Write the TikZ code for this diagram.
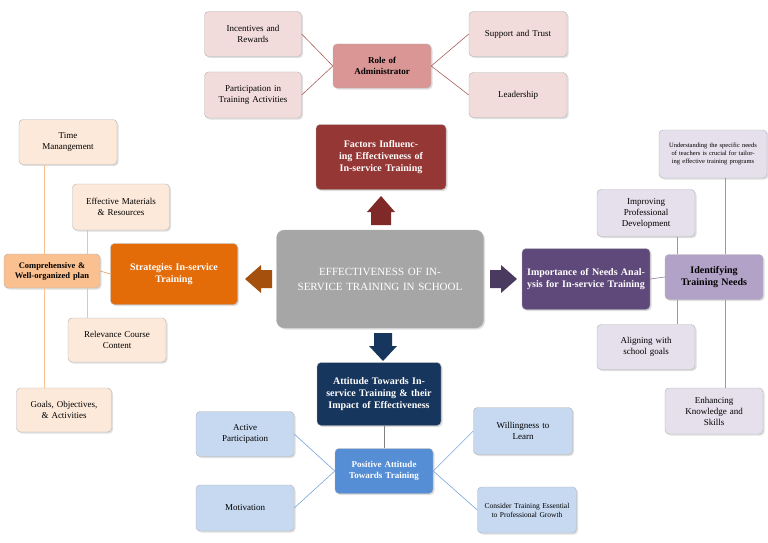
\documentclass[tikz,border=0pt]{standalone}
\usepackage{fontspec}
\setmainfont{Liberation Serif}
\usetikzlibrary{shadows}
\definecolor{cgray}{HTML}{A6A6A6}
\definecolor{dred}{HTML}{953735}
\definecolor{mred}{HTML}{D99694}
\definecolor{lred}{HTML}{F2DCDB}
\definecolor{dor}{HTML}{E36C09}
\definecolor{mor}{HTML}{FAC090}
\definecolor{lor}{HTML}{FDE9D9}
\definecolor{dpu}{HTML}{5F497A}
\definecolor{mpu}{HTML}{B2A2C7}
\definecolor{lpu}{HTML}{E5E0EC}
\definecolor{dbl}{HTML}{17365D}
\definecolor{mbl}{HTML}{558ED5}
\definecolor{lbl}{HTML}{C6D9F1}
\definecolor{arrred}{HTML}{7F2A28}
\definecolor{arror}{HTML}{A5500C}
\definecolor{arrpu}{HTML}{4B3A60}
\begin{document}
\begin{tikzpicture}[x=1pt,y=-1pt,
 box/.style={draw=gray!60,rounded corners=4pt,align=center,inner sep=2pt,font=\fontsize{9}{11}\selectfont,drop shadow={opacity=0.25,shadow xshift=1.5pt,shadow yshift=-1.5pt}},
 big/.style={box,text=white,font=\bfseries\fontsize{10}{12}\selectfont},
 mid/.style={box,font=\bfseries\fontsize{9}{11}\selectfont},
 ln/.style={line width=0.6pt}]
\useasboundingbox (0,0) rectangle (768,543);
% central
\node[box,fill=cgray,text=white,minimum width=207,minimum height=98,rounded corners=8pt,font=\fontsize{11}{15}\selectfont,text width=180] (c) at (380,279) {EFFECTIVENESS OF IN-SERVICE TRAINING IN SCHOOL};
% top
\node[big,fill=dred,minimum width=130,minimum height=65,text width=124] (f) at (381,157) {Factors Influencing Effectiveness of In-service Training};
\node[mid,fill=mred,minimum width=98,minimum height=44,text width=90] (r) at (382,66) {Role of\\Administrator};
\node[box,fill=lred,minimum width=97,minimum height=45,text width=90] (r1) at (253,34) {Incentives and\\Rewards};
\node[box,fill=lred,minimum width=97,minimum height=46,text width=90] (r2) at (253,95) {Participation in\\Training Activities};
\node[box,fill=lred,minimum width=98,minimum height=45,text width=90] (r3) at (518,34) {Support and Trust};
\node[box,fill=lred,minimum width=98,minimum height=45,text width=90] (r4) at (518,95) {Leadership};
\draw[ln,dred!80] (r.west) -- (r1.east) (r.west) -- (r2.east) (r.east) -- (r3.west) (r.east) -- (r4.west);
% left
\node[big,fill=dor,minimum width=127,minimum height=61,text width=120] (s) at (174,274) {Strategies In-service\\Training};
\node[mid,fill=mor,minimum width=95,minimum height=34,text width=92,font=\bfseries\fontsize{8.5}{10}\selectfont] (cp) at (52,271) {Comprehensive \&\\Well-organized plan};
\node[box,fill=lor,minimum width=98,minimum height=45,text width=90] (s1) at (68,142) {Time\\Manangement};
\node[box,fill=lor,minimum width=97,minimum height=46,text width=90] (s2) at (121,207) {Effective Materials\\\& Resources};
\node[box,fill=lor,minimum width=98,minimum height=44,text width=90] (s3) at (117,340) {Relevance Course\\Content};
\node[box,fill=lor,minimum width=95,minimum height=44,text width=90] (s4) at (64,410) {Goals, Objectives,\\\& Activities};
\draw[ln,dor!70] (s.west) -- (cp.east);
\draw[ln,mor] (cp.north -| 44,0) -- (s1.south -| 44,0) (cp.south -| 44,0) -- (s4.north -| 44,0)
 (cp.north -| 87,0) -- (s2.south -| 87,0) (cp.south -| 87,0) -- (s3.north -| 87,0);
% right
\node[big,fill=dpu,minimum width=128,minimum height=61,text width=122] (im) at (586,279) {Importance of Needs Analysis for In-service Training};
\node[mid,fill=mpu,minimum width=98,minimum height=45,text width=92,font=\bfseries\fontsize{10}{12}\selectfont] (id) at (714,277) {Identifying\\Training Needs};
\node[box,fill=lpu,minimum width=107,minimum height=48,text width=104,font=\fontsize{6.5}{8}\selectfont] (p1) at (713,154) {Understanding the specific needs of teachers is crucial for tailoring effective training programs};
\node[box,fill=lpu,minimum width=98,minimum height=47,text width=90] (p2) at (646,213) {Improving\\Professional\\Development};
\node[box,fill=lpu,minimum width=98,minimum height=45,text width=90] (p3) at (646,347) {Aligning with\\school goals};
\node[box,fill=lpu,minimum width=98,minimum height=46,text width=90] (p4) at (714,411) {Enhancing\\Knowledge and\\Skills};
\draw[ln,dpu!70] (im.east) -- (id.west);
\draw[ln,dpu!60] (id.north -| 725,0) -- (p1.south -| 725,0) (id.south -| 725,0) -- (p4.north -| 725,0)
 (id.north -| 677,0) -- (p2.south -| 677,0) (id.south -| 677,0) -- (p3.north -| 677,0);
% bottom
\node[big,fill=dbl,minimum width=124,minimum height=63,text width=118] (a) at (379,394) {Attitude Towards In-service Training \& their Impact of Effectiveness};
\node[mid,fill=mbl,text=white,minimum width=98,minimum height=45,text width=92] (po) at (384,471) {Positive Attitude\\Towards Training};
\node[box,fill=lbl,minimum width=98,minimum height=45,text width=90] (b1) at (245,434) {Active\\Participation};
\node[box,fill=lbl,minimum width=99,minimum height=47,text width=90] (b2) at (523,431) {Willingness to\\Learn};
\node[box,fill=lbl,minimum width=98,minimum height=46,text width=90] (b3) at (245,508) {Motivation};
\node[box,fill=lbl,minimum width=99,minimum height=46,text width=94,font=\fontsize{7.5}{9}\selectfont] (b4) at (527,510) {Consider Training Essential to Professional Growth};
\draw[ln,gray] (a.south -| po.north) -- (po.north);
\draw[ln,mbl!80] (po.west) -- (b1.east) (po.west) -- (b3.east) (po.east) -- (b2.west) (po.east) -- (b4.west);
% block arrows
\fill[arrred] (371,225) -- (371,212) -- (367,212) -- (381,196) -- (395,212) -- (391,212) -- (391,225) -- cycle;
\fill[arror] (272,270) -- (261,270) -- (261,265) -- (245,279) -- (261,293) -- (261,288) -- (272,288) -- cycle;
\fill[arrpu] (490,270) -- (501,270) -- (501,265) -- (517,279) -- (501,293) -- (501,288) -- (490,288) -- cycle;
\fill[dbl] (374,333) -- (374,346) -- (369,346) -- (383,361) -- (397,346) -- (392,346) -- (392,333) -- cycle;
\end{tikzpicture}
\end{document}
